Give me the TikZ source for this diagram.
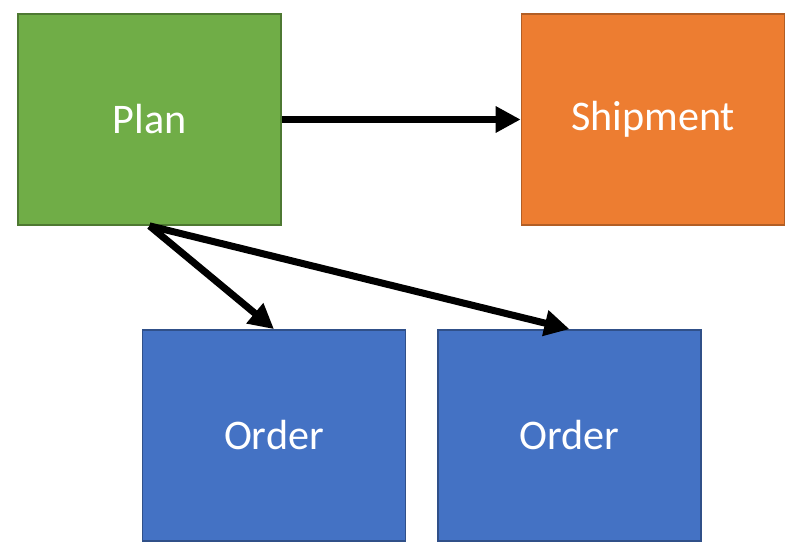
\documentclass[tikz,border=0pt]{standalone}
\usepackage{fontspec}
\setmainfont{Carlito}
\usetikzlibrary{arrows.meta}
\definecolor{plangreen}{HTML}{70AD47}
\definecolor{shiporange}{HTML}{ED7D31}
\definecolor{orderblue}{HTML}{4472C4}
\tikzset{
  box/.style={draw, line width=1pt, minimum width=5.26cm, minimum height=4.22cm,
    inner sep=0pt, text=white, font=\fontsize{24}{28}\selectfont},
  link/.style={line width=4pt, -{Triangle[length=0.5cm,width=0.5cm]}}
}
\begin{document}
\begin{tikzpicture}[x=0.02cm,y=-0.02cm]
    \useasboundingbox (0,0) rectangle (799,557);

    % Boxes
    \node (plan) [box,fill=plangreen,draw=plangreen!70!black] at (149.5,119.5) {Plan};
    \node (ship) [box,fill=shiporange,draw=shiporange!75!black] at (653,119.5) {Shipment};
    \node (order1) [box,fill=orderblue,draw=orderblue!70!black] at (274,435.5) {Order};
    \node (order2) [box,fill=orderblue,draw=orderblue!70!black] at (569.5,435.5) {Order};

    % Links
    \draw [link] (plan.east) -- (ship.west);
    \draw [link] (plan.south) -- (order1.north);
    \draw [link] (plan.south) -- (order2.north);

\end{tikzpicture}
\end{document}
